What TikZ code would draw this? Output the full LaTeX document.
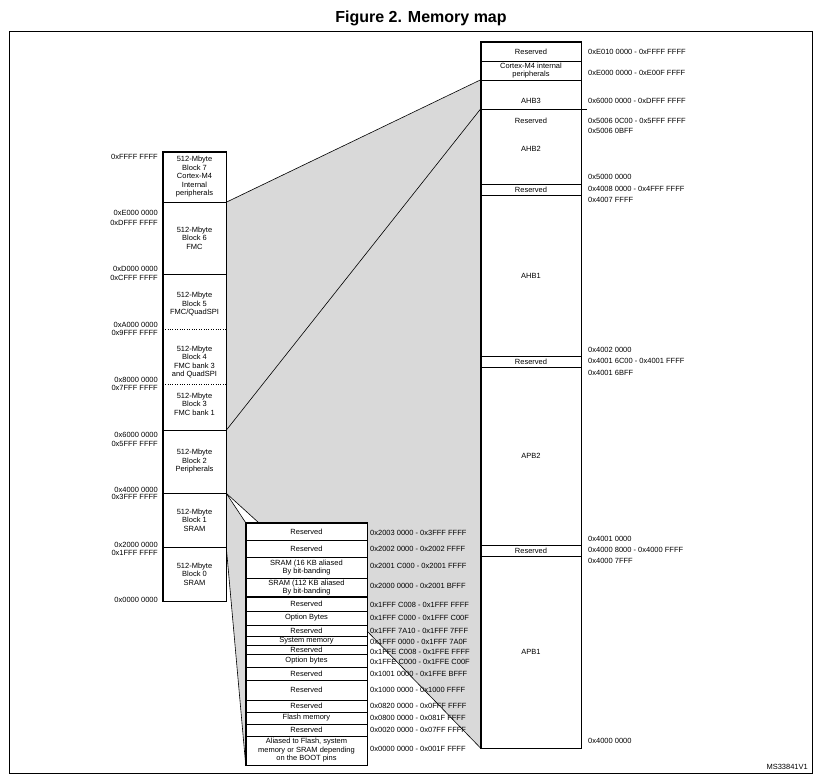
\documentclass[tikz,border=0pt]{standalone}
\usepackage{fontspec}
\setmainfont{Liberation Sans}
\begin{document}
\begin{tikzpicture}[x=1pt,y=-1pt,
  every node/.style={font=\fontsize{7.5}{8.5}\selectfont, inner sep=0pt},
  cellbox/.style={draw, line width=0.5pt, fill=white, align=center},
  lab/.style={anchor=west},
  labl/.style={anchor=east}]
\useasboundingbox (0,0) rectangle (820,779);
\newcommand\cellx[7][]{\node[cellbox,#1, minimum width={#5pt-#3pt}, minimum height={#6pt-#4pt}] (#2) at ({(#3+#5)/2},{(#4+#6)/2}) {#7};}
\node[font=\bfseries\fontsize{16}{18}\selectfont] (title) at (421,18) {Figure 2. Memory map};
\draw[line width=0.5pt] (9,31) rectangle (812,773);
% gray areas
\fill[gray!30] (226,202) -- (481,80) -- (481,748) -- (367,631) -- (367,523) -- (259,523) -- (226,493) -- cycle;
\fill[gray!30] (226,493) -- (246,523) -- (246,765) -- (226,547) -- cycle;
% left column
\cellx{b7}{163}{152}{226}{202}{512-Mbyte\\Block 7\\Cortex-M4\\Internal\\peripherals}
\cellx{b6}{163}{202}{226}{274}{512-Mbyte\\Block 6\\FMC}
\cellx{b543}{163}{274}{226}{430}{}
\node[align=center] (b5) at (194.5,304) {512-Mbyte\\Block 5\\FMC/QuadSPI};
\node[align=center] (b4) at (194.5,362) {512-Mbyte\\Block 4\\FMC bank 3\\and QuadSPI};
\node[align=center] (b3) at (194.5,404) {512-Mbyte\\Block 3\\FMC bank 1};
\draw[dotted] (b543.west |- 0,329) -- (b543.east |- 0,329);
\draw[dotted] (b543.west |- 0,384) -- (b543.east |- 0,384);
\cellx{b2}{163}{430}{226}{493}{512-Mbyte\\Block 2\\Peripherals}
\cellx{b1}{163}{493}{226}{547}{512-Mbyte\\Block 1\\SRAM}
\cellx{b0}{163}{547}{226}{601}{512-Mbyte\\Block 0\\SRAM}
\draw[line width=1pt] (b7.north west) rectangle (b0.south east);
\foreach \t/\y in {0xFFFF FFFF/157,0xE000 0000/213,0xDFFF FFFF/223,0xD000 0000/269,0xCFFF FFFF/278,0xA000 0000/325,0x9FFF FFFF/333,0x8000 0000/380,0x7FFF FFFF/388,0x6000 0000/435,0x5FFF FFFF/444,0x4000 0000/490,0x3FFF FFFF/497,0x2000 0000/545,0x1FFF FFFF/553,0x0000 0000/600}
  \node[labl] at (158,\y) {\t};
% right column
\cellx{r1}{481}{42}{581}{61}{Reserved}
\cellx{r2}{481}{61}{581}{80}{Cortex-M4 internal\\peripherals}
\cellx{r3}{481}{80}{581}{109}{}
\node (ahb3) at (531,101) {AHB3};
\cellx{r4}{481}{109}{581}{184}{}
\node (r4res) at (531,121) {Reserved};
\node (ahb2) at (531,149) {AHB2};
\cellx{r5}{481}{184}{581}{195}{Reserved}
\cellx{r6}{481}{195}{581}{356}{AHB1}
\cellx{r7}{481}{356}{581}{367}{Reserved}
\cellx{r8}{481}{367}{581}{545}{APB2}
\cellx{r9}{481}{545}{581}{556}{Reserved}
\cellx{r10}{481}{556}{581}{748}{APB1}
\draw[line width=1pt] (r1.north west) rectangle (r10.south east);
\draw[line width=0.5pt] (r3.south east) -- ++(6,0);
\foreach \t/\y in {0xE010 0000 - 0xFFFF FFFF/52,0xE000 0000 - 0xE00F FFFF/73,0x6000 0000 - 0xDFFF FFFF/101,0x5006 0C00 - 0x5FFF FFFF/121,0x5006 0BFF/131,0x5000 0000/177,0x4008 0000 - 0x4FFF FFFF/189,0x4007 FFFF/200,0x4002 0000/350,0x4001 6C00 - 0x4001 FFFF/361,0x4001 6BFF/373,0x4001 0000/539,0x4000 8000 - 0x4000 FFFF/550,0x4000 7FFF/561,0x4000 0000/741}
  \node[lab] at (588,\y) {\t};
% lower box
\cellx{l1}{246}{523}{367}{540}{Reserved}
\cellx{l2}{246}{540}{367}{557}{Reserved}
\cellx{l3}{246}{557}{367}{578}{SRAM (16 KB aliased\\By bit-banding}
\cellx{l4}{246}{578}{367}{597}{SRAM (112 KB aliased\\By bit-banding}
\cellx{l5}{246}{597}{367}{611}{Reserved}
\cellx{l6}{246}{611}{367}{625}{Option Bytes}
\cellx{l7}{246}{625}{367}{636}{Reserved}
\cellx{l8}{246}{636}{367}{645}{System memory}
\cellx{l9}{246}{645}{367}{654}{Reserved}
\cellx{l10}{246}{654}{367}{667}{Option bytes}
\cellx{l11}{246}{667}{367}{680}{Reserved}
\cellx{l12}{246}{680}{367}{700}{Reserved}
\cellx{l13}{246}{700}{367}{712}{Reserved}
\cellx{l14}{246}{712}{367}{724}{Flash memory}
\cellx{l15}{246}{724}{367}{736}{Reserved}
\cellx{l16}{246}{736}{367}{765}{Aliased to Flash, system\\memory or SRAM depending\\on the BOOT pins}
\draw[line width=1pt] (l1.north west) rectangle (l4.south east);
\draw[line width=1pt] (l5.north west) rectangle (l16.south east);
\foreach \t/\y in {0x2003 0000 - 0x3FFF FFFF/533,0x2002 0000 - 0x2002 FFFF/549,0x2001 C000 - 0x2001 FFFF/566,0x2000 0000 - 0x2001 BFFF/586,0x1FFF C008 - 0x1FFF FFFF/605,0x1FFF C000 - 0x1FFF C00F/618,0x1FFF 7A10 - 0x1FFF 7FFF/631,0x1FFF 0000 - 0x1FFF 7A0F/642,0x1FFE C008 - 0x1FFE FFFF/652,0x1FFE C000 - 0x1FFE C00F/662,0x1001 0000 - 0x1FFE BFFF/674,0x1000 0000 - 0x1000 FFFF/690,0x0820 0000 - 0x0FFF FFFF/706,0x0800 0000 - 0x081F FFFF/718,0x0020 0000 - 0x07FF FFFF/730,0x0000 0000 - 0x001F FFFF/749}
  \node[lab] at (370,\y) {\t};
% connectors
\coordinate (c1) at (367,631);
\draw[line width=0.6pt] (b7.south east) -- (r3.north west);
\draw[line width=0.6pt] (b543.south east) -- (r4.north west);
\draw[line width=0.6pt] (c1) -- (r10.south west);
\draw[line width=0.6pt] (b2.south east) -- (l1.north west);
\coordinate (c2) at (259,523);
\draw[line width=0.6pt] (b2.south east) -- (c2);
\draw[line width=0.6pt] (b0.north east) -- (l16.south west);
\node[anchor=east] (ms) at (808,767) {MS33841V1};
\end{tikzpicture}
\end{document}
